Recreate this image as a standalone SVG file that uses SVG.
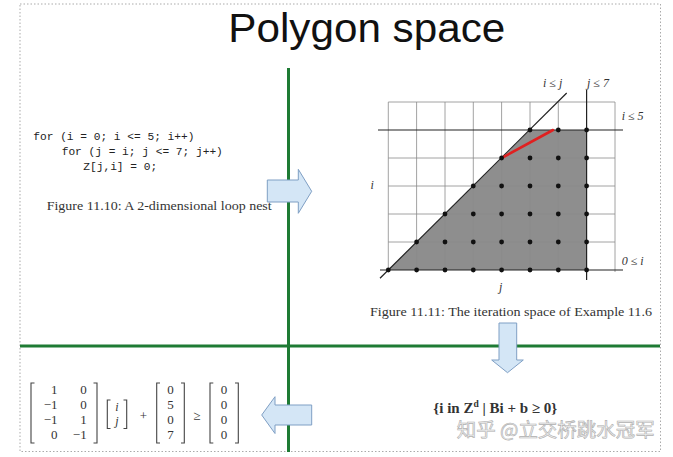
<svg xmlns="http://www.w3.org/2000/svg" width="673" height="457" viewBox="0 0 673 457">
<style>
.title{font-family:"Liberation Sans",Arial,sans-serif;font-size:40px;fill:#111}
.code{font-family:"Liberation Mono","Courier New",monospace;font-size:11.2px;fill:#222}
.cap{font-family:"Liberation Serif","Times New Roman",serif;font-size:12.5px;fill:#333}
.lbl{font-family:"Liberation Serif","Times New Roman",serif;font-size:12px;font-style:italic;fill:#333}
.num{font-family:"Liberation Serif","Times New Roman",serif;font-size:13px;fill:#333}
.grid{stroke:#8a8a8a;stroke-width:0.8;fill:none}
.cons{stroke:#222;stroke-width:1.2;fill:none}
.brk{stroke:#444;stroke-width:1.1;fill:none}
.arrow{fill:#d4e6f6;stroke:#7f9fc4;stroke-width:1}
.divider{stroke:#1e7b34;stroke-width:3}
.wm{font-family:"Noto Sans CJK SC","Noto Sans",sans-serif;font-size:19px;fill:#f0f0f0;stroke:#b0b0b0;stroke-width:0.6}
</style>
<rect x="0" y="0" width="673" height="457" fill="#ffffff"/>
<rect x="20" y="4" width="640.5" height="447.5" fill="none" stroke="#aaaaaa" stroke-width="1" stroke-dasharray="1.5 2"/>

<g id="dividers">
<line class="divider" x1="288.5" y1="68" x2="288.5" y2="452"/>
<line class="divider" x1="20" y1="346" x2="660" y2="346"/>
</g>

<g id="title">
<text class="title" x="228.3" y="41.7" textLength="277" lengthAdjust="spacingAndGlyphs">Polygon space</text>
</g>

<g id="loop-nest">
<text class="code" x="33.3" y="140" xml:space="preserve">for (i = 0; i &lt;= 5; i++)</text>
<text class="code" x="61.7" y="155" xml:space="preserve">for (j = i; j &lt;= 7; j++)</text>
<text class="code" x="83.3" y="169.5" xml:space="preserve">Z[j,i] = 0;</text>
<text class="cap" x="46.7" y="209.5" textLength="225" lengthAdjust="spacingAndGlyphs">Figure 11.10: A 2-dimensional loop nest</text>
</g>

<g id="iteration-space">
<polygon points="388.3,270 530,130 586.6,130 586.6,270" fill="#8e8e8e"/>
<g class="grid">
<line x1="388.3" y1="102" x2="388.3" y2="272"/>
<line x1="416.6" y1="102" x2="416.6" y2="272"/>
<line x1="445" y1="102" x2="445" y2="272"/>
<line x1="473.3" y1="102" x2="473.3" y2="272"/>
<line x1="501.6" y1="102" x2="501.6" y2="272"/>
<line x1="530" y1="102" x2="530" y2="272"/>
<line x1="558.3" y1="102" x2="558.3" y2="272"/>
<line x1="615" y1="102" x2="615" y2="272"/>
<line x1="388.3" y1="102" x2="615" y2="102"/>
<line x1="388.3" y1="158" x2="615" y2="158"/>
<line x1="388.3" y1="186" x2="615" y2="186"/>
<line x1="388.3" y1="214" x2="615" y2="214"/>
<line x1="388.3" y1="242" x2="615" y2="242"/>
</g>
<g class="cons">
<line x1="378" y1="130" x2="623" y2="130"/>
<line x1="380" y1="270" x2="623" y2="270"/>
<line x1="586.6" y1="90" x2="586.6" y2="280"/>
<line x1="380" y1="278.3" x2="566.7" y2="93"/>
</g>
<line x1="501.6" y1="158" x2="553" y2="130" stroke="#e02020" stroke-width="2.6" stroke-linecap="round"/>
<g fill="#111">
<circle cx="388.3" cy="270" r="2.4"/><circle cx="416.6" cy="270" r="2.4"/><circle cx="445" cy="270" r="2.4"/><circle cx="473.3" cy="270" r="2.4"/><circle cx="501.6" cy="270" r="2.4"/><circle cx="530" cy="270" r="2.4"/><circle cx="558.3" cy="270" r="2.4"/><circle cx="586.6" cy="270" r="2.4"/>
<circle cx="416.6" cy="242" r="2.4"/><circle cx="445" cy="242" r="2.4"/><circle cx="473.3" cy="242" r="2.4"/><circle cx="501.6" cy="242" r="2.4"/><circle cx="530" cy="242" r="2.4"/><circle cx="558.3" cy="242" r="2.4"/><circle cx="586.6" cy="242" r="2.4"/>
<circle cx="445" cy="214" r="2.4"/><circle cx="473.3" cy="214" r="2.4"/><circle cx="501.6" cy="214" r="2.4"/><circle cx="530" cy="214" r="2.4"/><circle cx="558.3" cy="214" r="2.4"/><circle cx="586.6" cy="214" r="2.4"/>
<circle cx="473.3" cy="186" r="2.4"/><circle cx="501.6" cy="186" r="2.4"/><circle cx="530" cy="186" r="2.4"/><circle cx="558.3" cy="186" r="2.4"/><circle cx="586.6" cy="186" r="2.4"/>
<circle cx="501.6" cy="158" r="2.4"/><circle cx="530" cy="158" r="2.4"/><circle cx="558.3" cy="158" r="2.4"/><circle cx="586.6" cy="158" r="2.4"/>
<circle cx="530" cy="130" r="2.4"/><circle cx="558.3" cy="130" r="2.4"/><circle cx="586.6" cy="130" r="2.4"/>
</g>
<text class="lbl" x="543" y="87">i ≤ j</text>
<text class="lbl" x="587" y="87">j ≤ 7</text>
<text class="lbl" x="621.7" y="120">i ≤ 5</text>
<text class="lbl" x="621.7" y="265">0 ≤ i</text>
<text class="lbl" x="370.5" y="189">i</text>
<text class="lbl" x="499" y="291">j</text>
<text class="cap" x="370" y="315.5" textLength="282" lengthAdjust="spacingAndGlyphs">Figure 11.11: The iteration space of Example 11.6</text>
</g>

<g id="set-notation">
<text x="433.3" y="412.5" font-family="Liberation Serif,'Times New Roman',serif" font-size="15" font-weight="bold" fill="#333">{i in Z<tspan font-size="9.5" dy="-5.5">d</tspan><tspan dy="5.5"> | Bi + b ≥ 0}</tspan></text>
</g>

<g id="matrix-form">
<path class="brk" d="M34.5,383 H31 V443 H34.5 M93.5,383 H97 V443 H93.5"/>
<g class="num" text-anchor="end">
<text x="57.5" y="394">1</text><text x="86.7" y="394">0</text>
<text x="57.5" y="409">−1</text><text x="86.7" y="409">0</text>
<text x="57.5" y="424">−1</text><text x="86.7" y="424">1</text>
<text x="57.5" y="439">0</text><text x="86.7" y="439">−1</text>
</g>
<path class="brk" d="M110.5,400 H107.3 V428.5 H110.5 M123.5,400 H126.7 V428.5 H123.5"/>
<text class="lbl" x="117" y="411" text-anchor="middle">i</text>
<text class="lbl" x="117" y="425" text-anchor="middle">j</text>
<text class="num" x="143.3" y="419.5" text-anchor="middle" font-size="14">+</text>
<path class="brk" d="M160,383 H156.7 V443 H160 M181,383 H184.3 V443 H181"/>
<g class="num" text-anchor="middle">
<text x="170.5" y="394">0</text><text x="170.5" y="409">5</text><text x="170.5" y="424">0</text><text x="170.5" y="439">7</text>
</g>
<text class="num" x="196.7" y="419.5" text-anchor="middle" font-size="14">≥</text>
<path class="brk" d="M213.3,383 H210 V443 H213.3 M235,383 H238.3 V443 H235"/>
<g class="num" text-anchor="middle">
<text x="224" y="394">0</text><text x="224" y="409">0</text><text x="224" y="424">0</text><text x="224" y="439">0</text>
</g>
</g>

<g id="connectors">
<polygon class="arrow" points="267.3,180 298.3,180 298.3,169.3 311.7,191.3 298.3,213.3 298.3,202 267.3,202"/>
<polygon class="arrow" points="499,323 516.7,323 516.7,360 523.3,360 507.5,372.7 491.7,360 499,360"/>
<polygon class="arrow" points="311.7,405 275,405 275,396.7 261.7,415 275,433.5 275,425 311.7,425"/>
</g>

<text class="wm" x="456.7" y="437" textLength="198" lengthAdjust="spacingAndGlyphs">知乎 @立交桥跳水冠军</text>
</svg>
